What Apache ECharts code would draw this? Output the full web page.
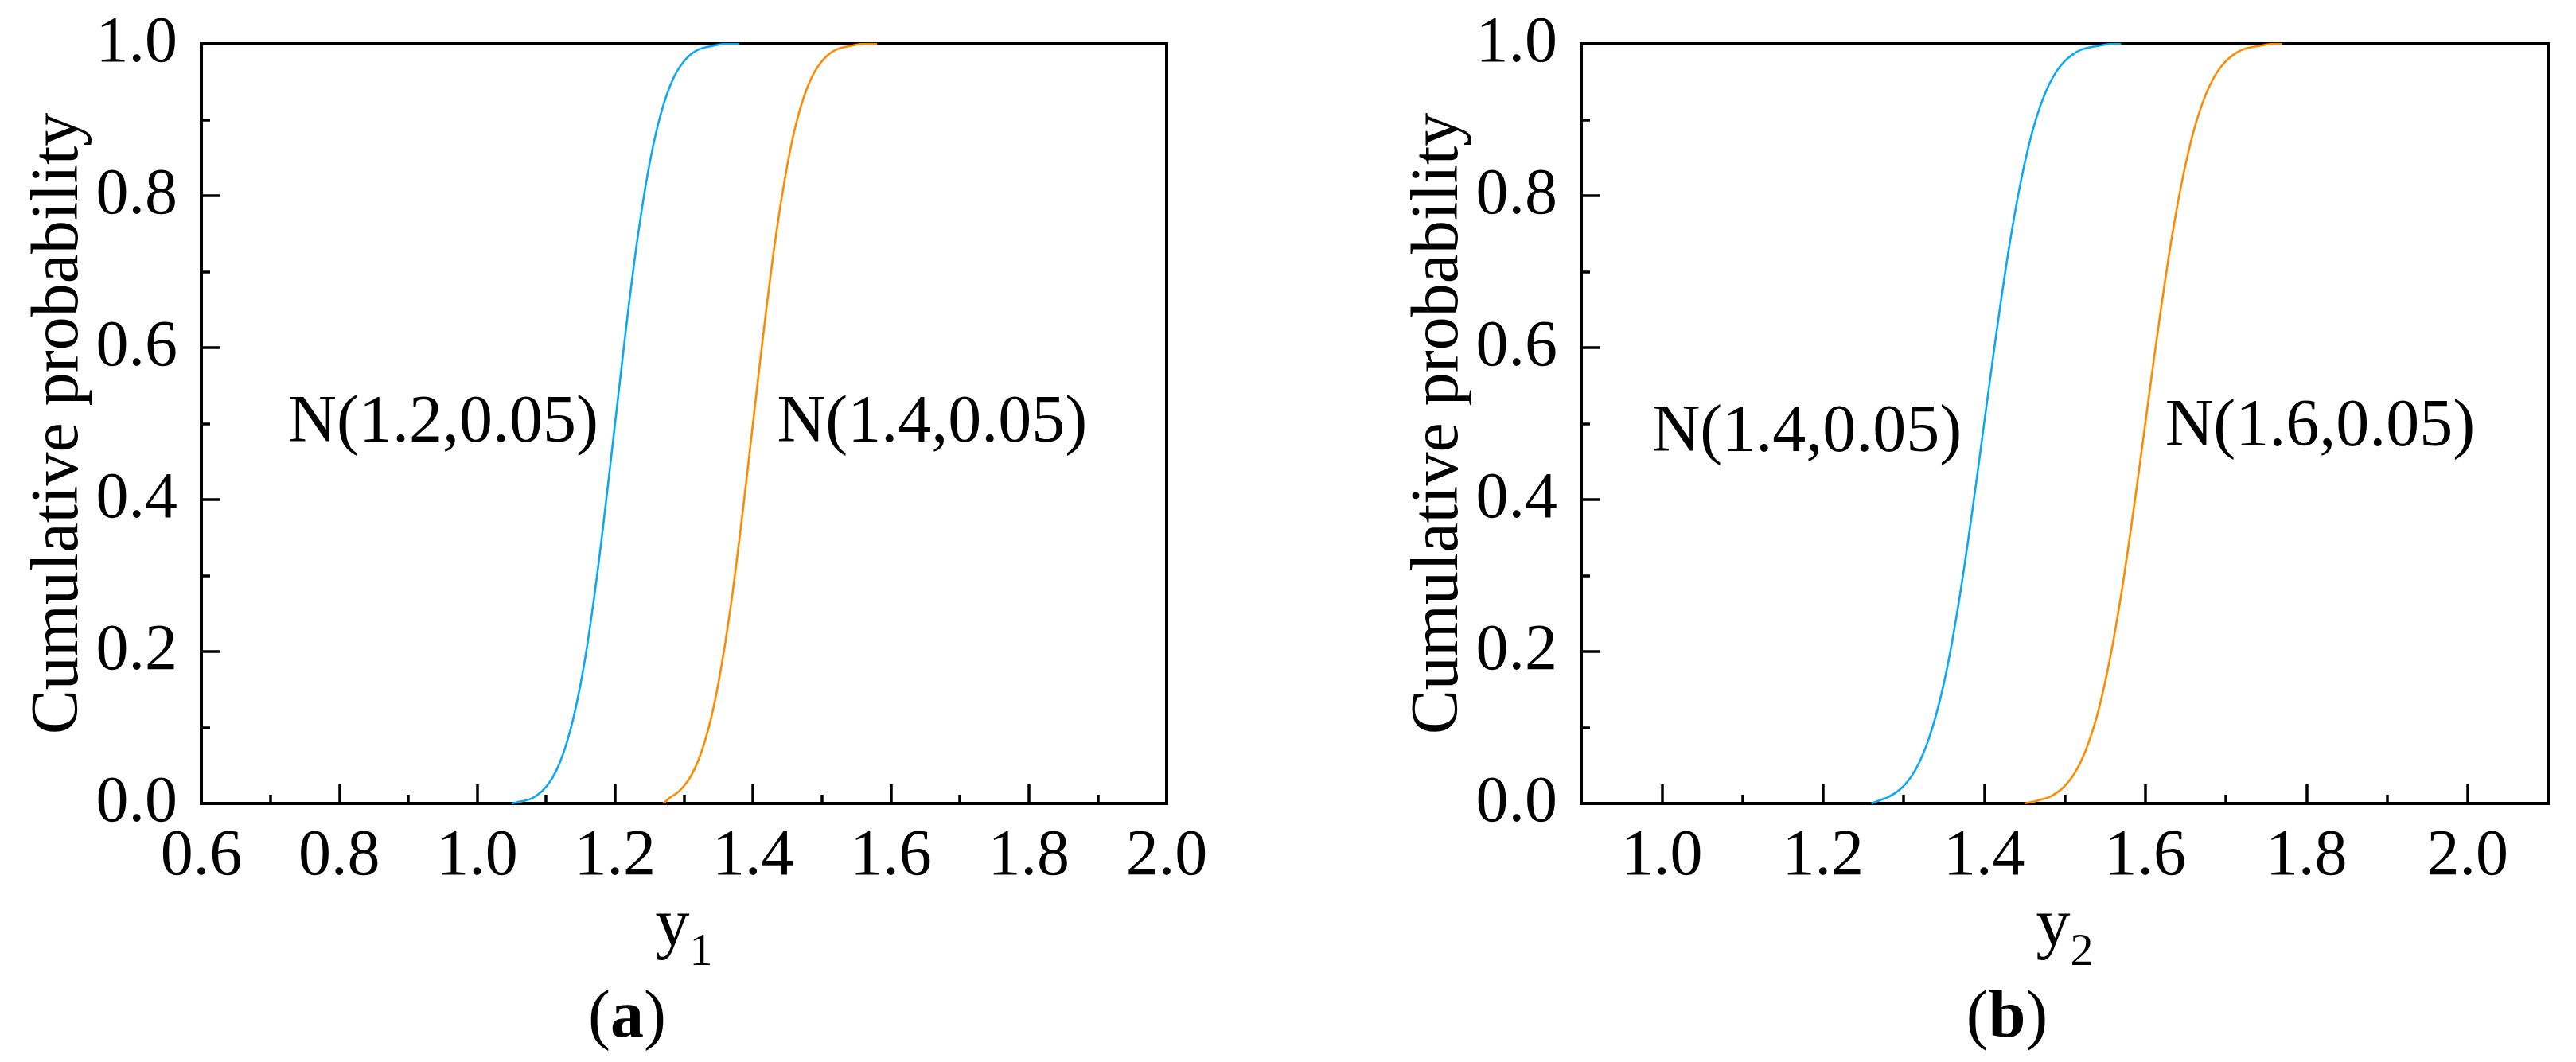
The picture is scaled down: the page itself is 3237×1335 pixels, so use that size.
<!DOCTYPE html>
<html>
<head>
<meta charset="utf-8">
<script src="https://cdn.jsdelivr.net/npm/echarts@6/dist/echarts.min.js"></script>
<style>
html,body{margin:0;padding:0;background:#fff;}
#c{width:3237px;height:1335px;}
</style>
</head>
<body>
<div id="c"></div>
<script>
// ---- data ----
// panel (a): N(1.2,0.05) blue, N(1.4,0.05) orange
const aBlueX = [1.05,1.06,1.07,1.08,1.09,1.10,1.11,1.12,1.13,1.14,1.15,1.16,1.17,1.18,1.19,1.20,1.21,1.22,1.23,1.24,1.25,1.26,1.27,1.28,1.29,1.30,1.31,1.32,1.33,1.34,1.35,1.36,1.37,1.38];
const aBlueY = [0.000,0.002,0.004,0.007,0.013,0.022,0.035,0.054,0.080,0.114,0.157,0.210,0.273,0.344,0.421,0.500,0.579,0.656,0.727,0.789,0.842,0.885,0.919,0.945,0.964,0.977,0.986,0.992,0.995,0.997,0.999,1.000,1.000,1.000];
const aOrangeX = [1.27,1.28,1.29,1.30,1.31,1.32,1.33,1.34,1.35,1.36,1.37,1.38,1.39,1.40,1.41,1.42,1.43,1.44,1.45,1.46,1.47,1.48,1.49,1.50,1.51,1.52,1.53,1.54,1.55,1.56,1.57,1.58];
const aOrangeY = [0.000,0.008,0.014,0.023,0.036,0.055,0.081,0.115,0.159,0.212,0.274,0.345,0.421,0.500,0.579,0.655,0.726,0.788,0.841,0.885,0.919,0.945,0.964,0.977,0.986,0.992,0.995,0.997,0.999,1.000,1.000,1.000];
// panel (b): N(1.4,0.05) blue, N(1.6,0.05) orange
const bBlueX = [1.26,1.27,1.28,1.29,1.30,1.31,1.32,1.33,1.34,1.35,1.36,1.37,1.38,1.39,1.40,1.41,1.42,1.43,1.44,1.45,1.46,1.47,1.48,1.49,1.50,1.51,1.52,1.53,1.54,1.55,1.56,1.57];
const bBlueY = [0.000,0.004,0.008,0.014,0.023,0.036,0.055,0.081,0.115,0.158,0.211,0.274,0.345,0.421,0.500,0.579,0.655,0.726,0.788,0.841,0.885,0.919,0.945,0.964,0.977,0.986,0.992,0.995,0.997,0.999,1.000,1.000];
const bOrangeX = [1.45,1.46,1.47,1.48,1.49,1.50,1.51,1.52,1.53,1.54,1.55,1.56,1.57,1.58,1.59,1.60,1.61,1.62,1.63,1.64,1.65,1.66,1.67,1.68,1.69,1.70,1.71,1.72,1.73,1.74,1.75,1.76,1.77];
const bOrangeY = [0.000,0.002,0.005,0.008,0.014,0.023,0.036,0.055,0.081,0.115,0.159,0.212,0.274,0.345,0.421,0.500,0.579,0.655,0.726,0.788,0.841,0.885,0.919,0.945,0.964,0.977,0.986,0.992,0.995,0.997,0.999,1.000,1.000];

const labelsA = ['N(1.2,0.05)', 'N(1.4,0.05)'];
const labelsB = ['N(1.4,0.05)', 'N(1.6,0.05)'];
const bMajorTicks = [1.0,1.2,1.4,1.6,1.8,2.0];
const bMinorTicks = [1.1,1.3,1.5,1.7,1.9];
const captions = ['a', 'b'];

// ---- styling ----
const FONT = 'Liberation Serif, Times New Roman, serif';
const BLUE = '#0aa8f7';
const ORANGE = '#ff8a00';
const pairs = (xs, ys) => xs.map((x, i) => [x, ys[i]]);

const axisLineStyle = {show: true, onZero: false, lineStyle: {color: '#000', width: 4}};
const tickLabel = {fontFamily: FONT, fontSize: 82, color: '#000', margin: 26, formatter: v => Number(v).toFixed(1)};

function xName(sub) {
  return {
    name: '{i|y}{s|' + sub + '}',
    nameLocation: 'middle',
    nameGap: 88,
    nameTextStyle: {
      rich: {
        i: {fontFamily: FONT, fontSize: 86, color: '#000', verticalAlign: 'top', lineHeight: 86},
        s: {fontFamily: FONT, fontSize: 58, color: '#000', verticalAlign: 'top', lineHeight: 58, padding: [46, 0, 0, 0]}
      }
    }
  };
}
function yAxis(gi) {
  return {
    gridIndex: gi, type: 'value', min: 0, max: 1, interval: 0.2,
    axisLine: axisLineStyle,
    axisTick: {show: true, inside: true, length: 24, lineStyle: {color: '#000', width: 3.5}},
    minorTick: {show: true, splitNumber: 2, length: 11, lineStyle: {color: '#000', width: 3.5}},
    splitLine: {show: false}, minorSplitLine: {show: false},
    axisLabel: Object.assign({}, tickLabel, {margin: 30}),
    name: 'Cumulative probability', nameLocation: 'middle', nameGap: 132, nameRotate: 90,
    nameTextStyle: {fontFamily: FONT, fontSize: 84, color: '#000'}
  };
}
function curve(name, xi, yi, data, color, lbl, coord) {
  return {
    type: 'line', name, xAxisIndex: xi, yAxisIndex: yi, data, showSymbol: false, symbol: 'none',
    lineStyle: {color, width: 2.6}, smooth: 0.2, silent: true, animation: false,
    markPoint: {
      symbol: 'circle', symbolSize: 1, itemStyle: {color: 'rgba(0,0,0,0)'}, silent: true, animation: false,
      label: {show: true, position: 'inside', formatter: '{b}', fontFamily: FONT, fontSize: 84, color: '#000'},
      data: [{name: lbl, coord}]
    }
  };
}

const option = {
  backgroundColor: '#fff',
  animation: false,
  grid: [
    {left: 253, top: 55, width: 1213, height: 955, show: true, borderColor: '#000', borderWidth: 4, containLabel: false},
    {left: 1987, top: 55, width: 1215, height: 955, show: true, borderColor: '#000', borderWidth: 4, containLabel: false}
  ],
  xAxis: [
    Object.assign({
      gridIndex: 0, type: 'value', min: 0.6, max: 2.0, interval: 0.2,
      axisLine: axisLineStyle,
      axisTick: {show: true, inside: true, length: 24, lineStyle: {color: '#000', width: 3.5}},
      minorTick: {show: true, splitNumber: 2, length: 11, lineStyle: {color: '#000', width: 3.5}},
      splitLine: {show: false}, minorSplitLine: {show: false},
      axisLabel: tickLabel
    }, xName('1')),
    Object.assign({
      gridIndex: 1, type: 'value', min: 0.9, max: 2.1, position: 'bottom',
      axisLine: axisLineStyle,
      axisTick: {show: true, inside: true, length: 24, customValues: bMajorTicks, lineStyle: {color: '#000', width: 3.5}},
      splitLine: {show: false},
      axisLabel: Object.assign({}, tickLabel, {customValues: bMajorTicks})
    }, xName('2')),
    {
      gridIndex: 1, type: 'value', min: 0.9, max: 2.1, position: 'bottom', offset: 0,
      axisLine: {show: false},
      axisTick: {show: true, inside: true, length: 11, customValues: bMinorTicks, lineStyle: {color: '#000', width: 3.5}},
      axisLabel: {show: false}, splitLine: {show: false}
    }
  ],
  yAxis: [yAxis(0), yAxis(1)],
  graphic: [
    {type: 'text', x: 788, y: 1281, style: {text: '{p|(}{b|' + captions[0] + '}{p|)}', align: 'center', verticalAlign: 'middle',
      rich: {p: {fontFamily: FONT, fontSize: 84, color: '#000'}, b: {fontFamily: FONT, fontSize: 84, fontWeight: 'bold', color: '#000'}}}},
    {type: 'text', x: 2522, y: 1281, style: {text: '{p|(}{b|' + captions[1] + '}{p|)}', align: 'center', verticalAlign: 'middle',
      rich: {p: {fontFamily: FONT, fontSize: 84, color: '#000'}, b: {fontFamily: FONT, fontSize: 84, fontWeight: 'bold', color: '#000'}}}}
  ],
  series: [
    curve('a1', 0, 0, pairs(aBlueX, aBlueY), BLUE, labelsA[0], [0.951, 0.50]),
    curve('a2', 0, 0, pairs(aOrangeX, aOrangeY), ORANGE, labelsA[1], [1.660, 0.50]),
    curve('b1', 1, 1, pairs(bBlueX, bBlueY), BLUE, labelsB[0], [1.180, 0.487]),
    curve('b2', 1, 1, pairs(bOrangeX, bOrangeY), ORANGE, labelsB[1], [1.817, 0.494])
  ]
};

const chart = echarts.init(document.getElementById('c'), null, {renderer: 'canvas'});
chart.setOption(option);
</script>
</body>
</html>
